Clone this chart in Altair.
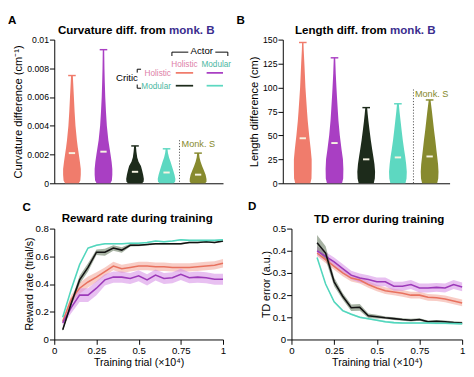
import altair as alt
import pandas as pd

FONT = "Liberation Sans"

# ---------------- colours ----------------
SALMON = "#F07C6C"
PURPLE = "#A93FC3"
DARK = "#1D2B1B"
TEAL = "#5DD8C1"
OLIVE = "#878A2E"
PINK_TXT = "#DD80A7"
TEAL_TXT = "#4CB7A2"
MONKB = "#3B2D8E"

# ---------------- violin data (panels A, B) ----------------
GROUPS = ["HH", "HM", "MH", "MM", "MonkS"]  # critic/actor, plus monkey S
VIOLIN_COLORS = [SALMON, PURPLE, DARK, TEAL, OLIVE]

CURV_MAX = [0.0075, 0.0093, 0.0026, 0.0024, 0.0021]
CURV_MEDIAN = [0.0021, 0.0022, 0.0008, 0.00075, 0.0006]
CURV_LEVELS = [
    [0, 0.0002, 0.0006, 0.001, 0.0015, 0.002, 0.0025, 0.003, 0.004, 0.005, 0.006, 0.007, 0.0075],
    [0, 0.0002, 0.0006, 0.001, 0.0015, 0.002, 0.003, 0.004, 0.005, 0.006, 0.007, 0.008, 0.0093],
    [0, 0.0001, 0.0003, 0.0006, 0.0009, 0.0012, 0.0015, 0.0018, 0.0022, 0.0026],
    [0, 0.0001, 0.0003, 0.0006, 0.0009, 0.0012, 0.0015, 0.0018, 0.0021, 0.0024],
    [0, 0.0001, 0.0003, 0.0006, 0.0009, 0.0012, 0.0015, 0.0018, 0.0021],
]
CURV_DENSITY = [
    [0.78, 0.95, 1.0, 1.0, 0.9, 0.78, 0.66, 0.56, 0.4, 0.3, 0.22, 0.14, 0.1],
    [0.78, 0.95, 1.0, 1.0, 0.92, 0.8, 0.55, 0.38, 0.28, 0.2, 0.15, 0.11, 0.08],
    [0.8, 0.97, 1.0, 0.92, 0.8, 0.67, 0.4, 0.25, 0.16, 0.1],
    [0.8, 0.97, 1.0, 0.9, 0.75, 0.6, 0.45, 0.28, 0.16, 0.1],
    [0.8, 0.95, 0.95, 0.85, 0.65, 0.45, 0.28, 0.16, 0.1],
]

LEN_MAX = [147, 131, 79, 83, 87]
LEN_MEDIAN = [47, 42, 25, 27, 28]
LEN_LEVELS = [
    [0, 5, 15, 25, 35, 50, 65, 75, 90, 100, 115, 125, 140, 147],
    [0, 5, 15, 25, 35, 50, 65, 75, 90, 100, 115, 131],
    [0, 5, 12, 20, 28, 35, 45, 55, 65, 72, 79],
    [0, 5, 12, 20, 28, 35, 45, 55, 65, 75, 83],
    [0, 5, 12, 20, 28, 35, 45, 55, 65, 75, 87],
]
LEN_DENSITY = [
    [0.85, 0.98, 1.0, 1.0, 0.9, 0.72, 0.56, 0.48, 0.37, 0.3, 0.23, 0.18, 0.1, 0.08],
    [0.85, 0.98, 1.0, 0.95, 0.8, 0.6, 0.45, 0.38, 0.28, 0.22, 0.14, 0.08],
    [0.85, 0.97, 1.0, 0.93, 0.8, 0.68, 0.52, 0.38, 0.25, 0.17, 0.1],
    [0.85, 0.97, 1.0, 0.93, 0.82, 0.7, 0.55, 0.42, 0.3, 0.18, 0.1],
    [0.85, 0.97, 1.0, 0.95, 0.85, 0.76, 0.64, 0.5, 0.38, 0.26, 0.1],
]

CURV_TICKS = [0, 0.002, 0.004, 0.006, 0.008, 0.01]
LEN_TICKS = [0, 25, 50, 75, 100, 125, 150]

# ---------------- training curves (panels C, D) ----------------
SERIES = ["HH", "HM", "MH", "MM"]
LINE_COLORS = ["#E8725F", "#9C3AB9", "#121212", "#52D6BD"]
BAND_COLORS = ["#F2A498", "#D58CE5", "#5F7357", "#8FE3D2"]

REWARD_X = [0.05, 0.1, 0.15, 0.2, 0.25, 0.3, 0.35, 0.4, 0.45, 0.5,
            0.55, 0.6, 0.65, 0.7, 0.75, 0.8, 0.85, 0.9, 0.95, 1.0]
REWARD_HH = [0.13, 0.29, 0.37, 0.415, 0.45, 0.49, 0.53, 0.51, 0.52, 0.53,
             0.53, 0.525, 0.525, 0.52, 0.52, 0.52, 0.525, 0.53, 0.535, 0.55]
REWARD_HM = [0.12, 0.23, 0.32, 0.32, 0.37, 0.43, 0.45, 0.45, 0.44, 0.46,
             0.43, 0.465, 0.44, 0.445, 0.47, 0.445, 0.45, 0.445, 0.435, 0.435]
REWARD_MH = [0.07, 0.26, 0.43, 0.52, 0.63, 0.63, 0.66, 0.645, 0.68, 0.68,
             0.685, 0.69, 0.69, 0.69, 0.69, 0.70, 0.70, 0.705, 0.70, 0.71]
REWARD_MM = [0.16, 0.36, 0.54, 0.66, 0.68, 0.69, 0.69, 0.69, 0.695, 0.695,
              0.70, 0.71, 0.705, 0.71, 0.72, 0.715, 0.715, 0.715, 0.715, 0.72]
REWARD_SEM_HH = [0.02, 0.03, 0.04, 0.04, 0.035, 0.03, 0.03, 0.03, 0.03, 0.03,
                 0.03, 0.03, 0.03, 0.03, 0.03, 0.03, 0.03, 0.03, 0.03, 0.03]
REWARD_SEM_HM = [0.02, 0.04, 0.05, 0.05, 0.05, 0.04, 0.04, 0.04, 0.04, 0.04,
                 0.04, 0.04, 0.04, 0.04, 0.04, 0.04, 0.04, 0.04, 0.04, 0.04]
REWARD_SEM_MH = [0.01, 0.02, 0.03, 0.03, 0.02, 0.025, 0.02, 0.02, 0.01, 0.008,
                 0.006, 0.006, 0.006, 0.006, 0.006, 0.006, 0.006, 0.006, 0.006, 0.006]
REWARD_SEM_MM = [0.005] * 20

TD_X = [0.15, 0.2, 0.25, 0.3, 0.35, 0.4, 0.45, 0.5, 0.55, 0.6,
        0.65, 0.7, 0.75, 0.8, 0.85, 0.9, 0.95, 1.0]
TD_HH = [0.39, 0.36, 0.33, 0.30, 0.277, 0.268, 0.248, 0.232, 0.22, 0.214,
         0.208, 0.20, 0.20, 0.19, 0.188, 0.183, 0.174, 0.165]
TD_HM = [0.40, 0.375, 0.35, 0.32, 0.29, 0.277, 0.27, 0.26, 0.26, 0.24,
         0.24, 0.248, 0.232, 0.232, 0.235, 0.232, 0.248, 0.237]
TD_MH = [0.436, 0.39, 0.26, 0.195, 0.143, 0.145, 0.107, 0.103, 0.098, 0.094,
         0.09, 0.087, 0.09, 0.08, 0.082, 0.08, 0.076, 0.074]
TD_MM = [0.37, 0.25, 0.17, 0.13, 0.114, 0.10, 0.094, 0.087, 0.08, 0.076,
         0.074, 0.074, 0.074, 0.074, 0.073, 0.073, 0.072, 0.071]
TD_SEM_HH = [0.015] * 18
TD_SEM_HM = [0.02] * 18
TD_SEM_MH = [0.035, 0.03, 0.02, 0.015, 0.015, 0.015, 0.01, 0.008, 0.006, 0.006,
             0.006, 0.006, 0.006, 0.006, 0.006, 0.006, 0.006, 0.006]
TD_SEM_MM = [0.004] * 18

# violin drawing constants (in x-scale units)
HALF = 0.28
CAP = 0.12
MED = 0.1
NUMFMT = ".6~g"


def txt(s, x, y, size=9, color="black", weight="normal", align="left", baseline="alphabetic",
        angle=0):
    return alt.Chart(pd.DataFrame({"t": [s]})).mark_text(
        text=s, fontSize=size, color=color, fontWeight=weight, align=align,
        baseline=baseline, font=FONT, angle=angle
    ).encode(x=alt.value(x), y=alt.value(y))


def seg(x1, y1, x2, y2, color="black", width=1.0):
    return alt.Chart(pd.DataFrame({"a": [0]})).mark_rule(
        color=color, strokeWidth=width
    ).encode(x=alt.value(x1), x2=alt.value(x2), y=alt.value(y1), y2=alt.value(y2))


def violin_panel(levels, density, maxima, medians, offset, xmax, ymax, yticks,
                 ytitle, label_size, sep_x, sep_top):
    rows = []
    for i, g in enumerate(GROUPS):
        for v, d in zip(levels[i], density[i]):
            rows.append({"group": g, "idx": i, "val": v, "dens": d})
    prof = pd.DataFrame(rows)
    stats = pd.DataFrame({"group": GROUPS, "idx": list(range(len(GROUPS))),
                          "vmax": maxima, "vmed": medians})
    sep = pd.DataFrame({"lo": [sep_x], "val": [sep_top], "v0": [0]})

    xs = alt.Scale(domain=[0, xmax], nice=False, zero=False)
    ys = alt.Scale(domain=[0, ymax], nice=False)
    yaxis = alt.Axis(values=yticks, format=NUMFMT, tickSize=5, labelFontSize=label_size,
                     titleFontSize=11.5, labelPadding=1, titlePadding=3, grid=False)
    xaxis = alt.Axis(labels=False, ticks=False, title=None, grid=False)
    color = alt.Color("group:N", scale=alt.Scale(domain=GROUPS, range=VIOLIN_COLORS), legend=None)

    def Y(f):
        return alt.Y(f, scale=ys, axis=yaxis, title=ytitle)

    def X(f):
        return alt.X(f, scale=xs, axis=xaxis, stack=None)

    area = alt.Chart(prof).transform_calculate(
        lo=f"datum.idx + {offset} - datum.dens * {HALF}",
        hi=f"datum.idx + {offset} + datum.dens * {HALF}",
    ).mark_area(orient="horizontal").encode(
        y=Y("val:Q"), x=X("lo:Q"), x2="hi:Q", color=color, detail="group:N")

    caps = alt.Chart(stats).transform_calculate(
        lo=f"datum.idx + {offset} - {CAP}",
        hi=f"datum.idx + {offset} + {CAP}",
        val="datum.vmax",
    ).mark_rule(strokeWidth=1.5).encode(y=Y("val:Q"), x=X("lo:Q"), x2="hi:Q", color=color)

    meds = alt.Chart(stats).transform_calculate(
        lo=f"datum.idx + {offset} - {MED}",
        hi=f"datum.idx + {offset} + {MED}",
        val="datum.vmed",
    ).mark_rule(strokeWidth=2, color="#F6F3E2").encode(y=Y("val:Q"), x=X("lo:Q"), x2="hi:Q")

    sepl = alt.Chart(sep).mark_rule(strokeDash=[1.2, 1.8], color="#555555", strokeWidth=1).encode(
        x=X("lo:Q"), y=Y("val:Q"), y2="v0:Q")

    return [area, caps, meds, sepl]


# ---------------- Panel A ----------------
A_W, A_H = 175, 149
a_layers = violin_panel(CURV_LEVELS, CURV_DENSITY, CURV_MAX, CURV_MEDIAN, 0.56, 5.35, 0.01,
                        CURV_TICKS, "Curvature difference (cm\u207b\u00b9)", 9, 3.97, 0.003)
a_layers += [
    txt("A", -48, -16, 12, weight="bold"),
    txt("Curvature diff. from", 115.7, -6, 12, weight="bold", align="right"),
    txt("monk. B", 119, -6, 12, color=MONKB, weight="bold"),
    txt("Monk. S", 132, 108.7, 9.5, color=OLIVE, baseline="middle"),
    # legend
    txt("Actor", 153, 15, 10, align="center"),
    seg(122, 13, 139, 13), seg(167, 13, 180, 13),
    seg(122, 13, 122, 17), seg(180, 13, 180, 17),
    txt("Holistic", 135, 28, 8.5, color=PINK_TXT, align="center"),
    txt("Modular", 168, 28, 8.5, color=TEAL_TXT, align="center"),
    txt("Critic", 64, 40, 10, baseline="middle"),
    seg(86, 30.7, 90, 30.7), seg(86, 30.7, 86, 34.2),
    seg(86, 50.4, 90, 50.4), seg(86, 46.6, 86, 50.4),
    txt("Holistic", 121, 34.5, 8.5, color=PINK_TXT, align="right", baseline="middle"),
    txt("Modular", 121, 47.8, 8.5, color=TEAL_TXT, align="right", baseline="middle"),
    seg(126, 34.5, 144, 34.5, SALMON, 1.8), seg(158, 34.5, 175, 34.5, PURPLE, 1.8),
    seg(126, 47.8, 144, 47.8, DARK, 1.8), seg(158, 47.8, 175, 47.8, TEAL, 1.8),
]
panel_a = alt.layer(*a_layers).properties(width=A_W, height=A_H)

# ---------------- Panel B ----------------
B_W, B_H = 173, 149
b_layers = violin_panel(LEN_LEVELS, LEN_DENSITY, LEN_MAX, LEN_MEDIAN, 0.63, 5.26, 150,
                        LEN_TICKS, "Length difference (cm)", 9, 4.12, 98)
b_layers += [
    txt("B", -48, -16, 12, weight="bold"),
    txt("Length diff. from", 107.9, -6, 12, weight="bold", align="right"),
    txt("monk. B", 111.2, -6, 12, color=MONKB, weight="bold"),
    txt("Monk. S", 137, 56.4, 9.5, color=OLIVE, baseline="middle"),
]
panel_b = alt.layer(*b_layers).properties(width=B_W, height=B_H)


# ---------------- curve panels ----------------
def curve_panel(xvals, means, sems, ymax, yticks, ytitle, title, letters,
                title_x, title_y, width, height, ytitle_x=None):
    rows = []
    for s, m_list, e_list in zip(SERIES, means, sems):
        for x, m, e in zip(xvals, m_list, e_list):
            rows.append({"series": s, "x": x, "m": m, "lo": m - e, "hi": m + e})
    df = pd.DataFrame(rows)
    xs = alt.Scale(domain=[0, 1], nice=False)
    ys = alt.Scale(domain=[0, ymax], nice=False)
    xaxis = alt.Axis(values=[0, 0.25, 0.5, 0.75, 1], format=NUMFMT, tickSize=5, labelFontSize=10,
                     titleFontSize=11, labelPadding=2, titlePadding=1, labelFlush=False, grid=False)
    yaxis = alt.Axis(values=yticks, format=NUMFMT, tickSize=5, labelFontSize=10,
                     titleFontSize=11, labelPadding=1, titlePadding=1, grid=False)
    axis_title = None if ytitle_x is not None else ytitle
    X = alt.X("x:Q", scale=xs, axis=xaxis, title="Training trial (\u00d710\u2074)")
    band = alt.Chart(df).mark_area(opacity=0.55).encode(
        x=X,
        y=alt.Y("lo:Q", scale=ys, axis=yaxis, title=axis_title, stack=None),
        y2="hi:Q",
        color=alt.Color("series:N", scale=alt.Scale(domain=SERIES, range=BAND_COLORS), legend=None),
        detail="series:N",
    )
    line = alt.Chart(df).mark_line(strokeWidth=1.6).encode(
        x=X,
        y=alt.Y("m:Q", scale=ys, axis=yaxis, title=axis_title),
        color=alt.Color("series:N", scale=alt.Scale(domain=SERIES, range=LINE_COLORS), legend=None),
    )
    extra = [txt(title, title_x, title_y, 12, weight="bold", align="center")]
    for (lt, lx, ly) in letters:
        extra.append(txt(lt, lx, ly, 12, weight="bold"))
    if ytitle_x is not None:
        extra.append(txt(ytitle, ytitle_x, height / 2, 11, align="center",
                         baseline="middle", angle=270))
    return alt.layer(band, line, *extra).resolve_scale(color="independent").properties(
        width=width, height=height)


C_W, C_H = 175, 115
D_W, D_H = 177, 115
panel_c = curve_panel(REWARD_X, [REWARD_HH, REWARD_HM, REWARD_MH, REWARD_MM],
                      [REWARD_SEM_HH, REWARD_SEM_HM, REWARD_SEM_MH, REWARD_SEM_MM],
                      0.8, [0, 0.2, 0.4, 0.6, 0.8], "Reward rate (trial/s)",
                      "Reward rate during training", [("C", -33, -18), ("D", 201, -19)],
                      86, -7, C_W, C_H, ytitle_x=-25)
panel_d = curve_panel(TD_X, [TD_HH, TD_HM, TD_MH, TD_MM],
                      [TD_SEM_HH, TD_SEM_HM, TD_SEM_MH, TD_SEM_MM],
                      0.5, [0, 0.1, 0.2, 0.3, 0.4, 0.5], "TD error (a.u.)",
                      "TD error during training", [], 91, -6, D_W, D_H)

row1 = alt.hconcat(panel_a, panel_b, spacing=5)
row2 = alt.hconcat(panel_c, panel_d, spacing=4)

chart = alt.vconcat(row1, row2, spacing=13, padding=0, background="white").configure_view(
    stroke=None
).configure_axis(
    domainColor="black", tickColor="black", labelColor="black", titleColor="black",
    labelFont=FONT, titleFont=FONT, titleFontWeight="normal", domainWidth=1, tickWidth=1,
)

chart.save("out.html", embed_options={"renderer": "svg", "actions": False})
